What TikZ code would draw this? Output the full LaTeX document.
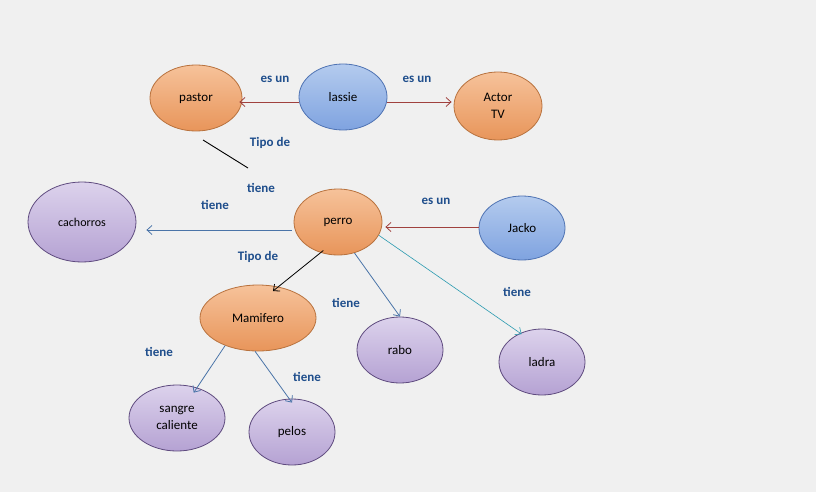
\documentclass[tikz,border=0pt]{standalone}
\usepackage{fontspec}
\setmainfont{Carlito}
\usetikzlibrary{arrows.meta,shapes.geometric}
\definecolor{bg}{HTML}{F0F0F0}
\definecolor{orT}{HTML}{F6C29A}\definecolor{orB}{HTML}{E8955A}\definecolor{orD}{HTML}{B8723E}
\definecolor{blT}{HTML}{B4CBEE}\definecolor{blB}{HTML}{7FA3E0}\definecolor{blD}{HTML}{4F73B3}
\definecolor{puT}{HTML}{DCD2EC}\definecolor{puB}{HTML}{B5A2D3}\definecolor{puD}{HTML}{5E4A7E}
\definecolor{lbl}{HTML}{1F4E8C}\definecolor{redar}{HTML}{A0413E}\definecolor{bluar}{HTML}{4A74A8}\definecolor{cyar}{HTML}{2A9AB0}
\tikzset{
 ell/.style={ellipse,draw,line width=0.8pt,inner sep=0pt,align=center,font=\fontsize{13}{17}\selectfont},
 orn/.style={ell,draw=orD,top color=orT,bottom color=orB},
 bln/.style={ell,draw=blD,top color=blT,bottom color=blB},
 pun/.style={ell,draw=puD,top color=puT,bottom color=puB},
 lab/.style={font=\bfseries\fontsize{13}{15}\selectfont,text=lbl},
 arr/.style={-{Straight Barb[length=5pt,width=9pt]},line width=0.8pt},
}
\begin{document}
\begin{tikzpicture}[x=1pt,y=-1pt]
\fill[bg] (0,0) rectangle (816,492);
\useasboundingbox (0,0) rectangle (816,492);
\node[orn,minimum width=92,minimum height=66] (pastor) at (196,98) {pastor};
\node[bln,minimum width=88,minimum height=66] (lassie) at (343,97) {lassie};
\node[orn,minimum width=88,minimum height=68] (actor) at (498,106) {Actor\\TV};
\node[orn,minimum width=88,minimum height=66] (perro) at (338,222) {perro};
\node[bln,minimum width=86,minimum height=64] (jacko) at (522,228) {Jacko};
\node[pun,minimum width=108,minimum height=80,font=\fontsize{12}{15}\selectfont] (cach) at (82,222) {cachorros};
\node[orn,minimum width=116,minimum height=66] (mam) at (258,318) {Mamifero};
\node[pun,minimum width=86,minimum height=66] (rabo) at (400,350) {rabo};
\node[pun,minimum width=86,minimum height=66] (ladra) at (542,362) {ladra};
\node[pun,minimum width=96,minimum height=66] (sangre) at (177,418) {sangre\\caliente};
\node[pun,minimum width=86,minimum height=66] (pelos) at (292,432) {pelos};
\coordinate (pst) at (203,140);
\coordinate (pend) at (248,168);
\draw[arr,redar] (lassie.west |- 0,102) -- ([xshift=-3pt]pastor.east |- 0,102);
\draw[arr,redar] (lassie.east |- 0,102) -- ([xshift=-2pt]actor.west |- 0,102);
\draw[line width=0.9pt] (pst) -- (pend);
\draw[arr,redar] (jacko.west |- 0,227) -- ([xshift=3pt]perro.east |- 0,227);
\draw[arr,bluar] ([xshift=-2pt]perro.west |- 0,230) -- ([xshift=10pt]cach.east |- 0,230);
\draw[arr,black] ([yshift=3pt]perro.-115) -- ([shift={(-2pt,-5pt)}]mam.62);
\draw[arr,bluar] (perro.-62) -- (rabo.north);
\draw[arr,cyar,line width=0.6pt] (perro.-18) -- ([shift={(-4pt,-3pt)}]ladra.118);
\draw[arr,bluar] (mam.-140) -- ([shift={(0pt,-6pt)}]sangre.62);
\draw[arr,bluar] (mam.-95) -- ([shift={(0pt,-4pt)}]pelos.north);
\node[lab] (l1) at (275,79) {es un};
\node[lab] (l2) at (417,79) {es un};
\node[lab] (l3) at (270,143) {Tipo de};
\node[lab] (l4) at (261,188) {tiene};
\node[lab] (l5) at (215,205) {tiene};
\node[lab] (l6) at (436,201) {es un};
\node[lab] (l7) at (258,257) {Tipo de};
\node[lab] (l8) at (346,303) {tiene};
\node[lab] (l9) at (517,292) {tiene};
\node[lab] (l10) at (159,352) {tiene};
\node[lab] (l11) at (307,377) {tiene};
\end{tikzpicture}
\end{document}
